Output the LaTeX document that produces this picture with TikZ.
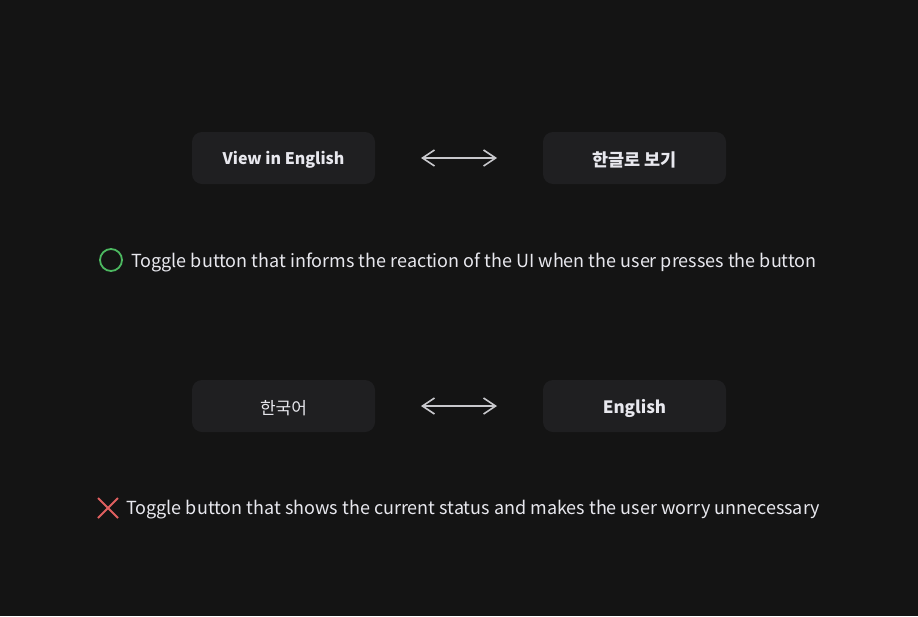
\documentclass[tikz,border=0pt]{standalone}
\usepackage{fontspec}
\setmainfont{Noto Sans CJK KR}
\usetikzlibrary{arrows.meta}
\definecolor{bg}{HTML}{141414}
\definecolor{btn}{HTML}{1F1F21}
\definecolor{txt}{HTML}{E8E8EE}
\definecolor{arr}{HTML}{C8C8CC}
\definecolor{okgreen}{HTML}{4CB860}
\definecolor{badred}{HTML}{E06060}
\tikzset{
  btnbox/.style={fill=btn, rounded corners=10pt, minimum width=183pt, minimum height=52pt, inner sep=0pt},
  btntext/.style={text=txt, inner sep=0pt, font=\fontsize{17}{20}\selectfont},
  swap/.style={draw=arr, line width=1.6pt, {Straight Barb[length=12pt,width=16pt]}-{Straight Barb[length=12pt,width=16pt]}},
  note/.style={anchor=west, text=txt, inner sep=0pt, font=\fontsize{18}{22}\selectfont}
}
\begin{document}
\begin{tikzpicture}[x=1pt,y=-1pt]
\fill[bg] (0,0) rectangle (918,616);
\useasboundingbox (0,0) rectangle (918,616);
% row 1
\node[btnbox] (b1) at (283.5,158) {};
\node[btntext, font=\fontsize{16}{20}\selectfont\bfseries] (l1) at ([yshift=-2pt]b1.center) {View in English};
\node[btnbox] (b2) at (634.5,158) {};
\node[btntext, font=\fontsize{17.5}{20}\selectfont\bfseries] (l2) at ([yshift=-2pt]b2.center) {한글로 보기};
\coordinate (a1l) at (421,158);
\coordinate (a1r) at (497,158);
\draw[swap] (a1l) -- (a1r);
\node[circle, draw=okgreen, line width=1.8pt, minimum size=22pt, inner sep=0pt] (ok) at (111,260) {};
\node[note] (t1) at (131,262) {Toggle button that informs the reaction of the UI when the user presses the button};
% row 2
\node[btnbox] (b3) at (283.5,406) {};
\node[btntext] (l3) at ([yshift=-2pt]b3.center) {한국어};
\node[btnbox] (b4) at (634.5,406) {};
\node[btntext, font=\fontsize{17}{20}\selectfont\bfseries] (l4) at ([yshift=-2pt]b4.center) {English};
\coordinate (a2l) at (421,406);
\coordinate (a2r) at (497,406);
\draw[swap] (a2l) -- (a2r);
\coordinate (xa) at (98,498);
\coordinate (xb) at (118,518);
\coordinate (xc) at (118,498);
\coordinate (xd) at (98,518);
\draw[badred, line width=1.8pt] (xa) -- (xb) (xc) -- (xd);
\node[note] (t2) at (126,510) {Toggle button that shows the current status and makes the user worry unnecessary};
\end{tikzpicture}
\end{document}
